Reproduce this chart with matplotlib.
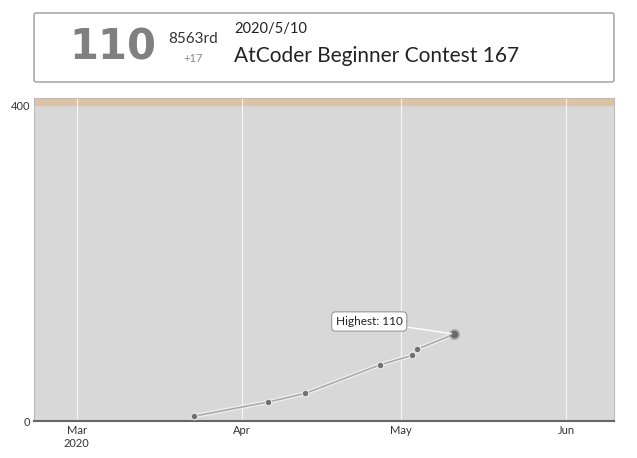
import matplotlib
matplotlib.use("Agg")
import matplotlib.pyplot as plt
import matplotlib.dates as mdates
from matplotlib.patches import FancyBboxPatch
import datetime as dt

# contest history (date, rating)
dates = ["2020-03-23", "2020-04-06", "2020-04-13", "2020-04-27",
         "2020-05-03", "2020-05-04", "2020-05-11"]
ratings = [6, 24, 35, 71, 83, 91, 110]
tick_dates = ["2020-03-01", "2020-04-01", "2020-05-01", "2020-06-01"]
tick_labels = ["Mar\n2020", "Apr", "May", "Jun"]

plt.rcParams["font.family"] = ["Lato", "DejaVu Sans"]
W, H = 637, 458
fig = plt.figure(figsize=(W / 100, H / 100), dpi=100)

# -- header box ---------------------------------------------------------------
fig.patches.append(FancyBboxPatch((34 / W, 1 - 82 / H), 580 / W, 69 / H,
                                  boxstyle="round,pad=0,rounding_size=0.004",
                                  transform=fig.transFigure, fc="white",
                                  ec="#aaaaaa", lw=1.2))
fig.text(113 / W, 1 - 48 / H, "110", fontsize=30, fontweight="bold",
         color="#808080", ha="center", va="center",
         family=["Liberation Sans Narrow", "DejaVu Sans"])
fig.text(193 / W, 1 - 39 / H, "8563rd", fontsize=11, color="#333333",
         ha="center", va="center")
fig.text(193 / W, 1 - 58 / H, "+17", fontsize=8, color="#888888",
         ha="center", va="center")
fig.text(234 / W, 1 - 29 / H, "2020/5/10", fontsize=10.5, color="#222222",
         ha="left", va="center")
fig.text(234 / W, 1 - 56 / H, "AtCoder Beginner Contest 167", fontsize=15,
         color="#222222", ha="left", va="center")

# -- rating chart ---------------------------------------------------------------
ax = fig.add_axes([34 / W, 1 - 421 / H, 580 / W, 323 / H])
x = [mdates.date2num(dt.date.fromisoformat(d)) for d in dates]
xt = [mdates.date2num(dt.date.fromisoformat(d)) for d in tick_dates]
ax.set_facecolor("#d8d8d8")
ax.set_xlim(mdates.date2num(dt.date(2020, 2, 22)), mdates.date2num(dt.date(2020, 6, 10)))
ax.set_ylim(0, 409)
ax.axhspan(400, 409, color="#dcc3a8", zorder=0)
for t in xt:
    ax.axvline(t, color="white", lw=0.8, alpha=0.8, zorder=1)

ax.plot(x, ratings, color="#f0f0f0", lw=3, zorder=2)
ax.plot(x, ratings, color="#aaaaaa", lw=1.2, zorder=3)
ax.scatter(x[:-1], ratings[:-1], s=22, color="#707070", ec="#e8e8e8", lw=0.8, zorder=4)
ax.scatter(x[-1:], ratings[-1:], s=45, color="#6a6a6a", ec="#aaaaaa", lw=1.2, zorder=5)

ax.annotate("Highest: 110", xy=(x[-1], ratings[-1]),
            xytext=(mdates.date2num(dt.date(2020, 4, 25)), 126),
            fontsize=8.5, ha="center", va="center", color="#222222",
            bbox=dict(boxstyle="round,pad=0.35", fc="white", ec="#999999", lw=0.8),
            arrowprops=dict(arrowstyle="-", color="white", lw=1, shrinkA=0),
            zorder=6)

ax.set_xticks(xt)
ax.set_xticklabels(tick_labels, fontsize=8, color="#333333")
ax.set_yticks([0, 400])
ax.set_yticklabels(["0", "400"], fontsize=8, color="#333333")
ax.tick_params(length=0, pad=3)
for side in ["top", "right", "left"]:
    ax.spines[side].set_color("#bbbbbb")
ax.spines["bottom"].set_color("#666666")
ax.spines["bottom"].set_linewidth(1.5)

fig.savefig("out.png", dpi=100)
